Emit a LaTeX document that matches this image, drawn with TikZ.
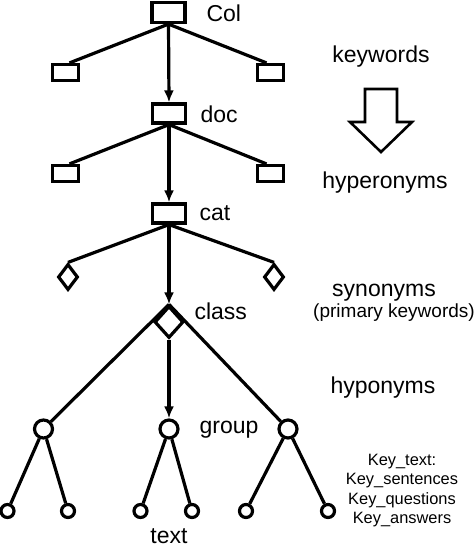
\documentclass[tikz,border=0pt]{standalone}
\usepackage{fontspec}
\setmainfont{Liberation Sans}
\usetikzlibrary{shapes.geometric,arrows.meta}

\begin{document}
\begin{tikzpicture}[x=1pt,y=-1pt,line width=3.2pt,
    box/.style={draw,rectangle,minimum width=33pt,minimum height=19pt,inner sep=0pt},
    kwbox/.style={draw,rectangle,minimum width=26pt,minimum height=16pt,inner sep=0pt},
    syn/.style={draw,diamond,minimum width=20pt,minimum height=26pt,inner sep=0pt},
    cls/.style={draw,diamond,minimum width=29pt,minimum height=32pt,inner sep=0pt},
    grp/.style={draw,circle,minimum size=18pt,inner sep=0pt},
    txt/.style={draw,circle,minimum size=13pt,inner sep=0pt},
    lab/.style={inner sep=0pt,font=\fontsize{23}{27}\selectfont},
    down/.style={-{Latex[length=12pt,width=10pt]}}]
    \useasboundingbox (0,0) rectangle (474,547);
    \node[box] (col) at (168.5,12.5) [minimum height=20pt] {};
    \node[kwbox] (kw1) at (65.5,72.5) {};
    \node[kwbox] (kw2) at (270.5,72.5) {};
    \node[box] (doc) at (169,113.5) {};
    \node[kwbox] (hy1) at (65.5,173.5) {};
    \node[kwbox] (hy2) at (270.5,173.5) {};
    \node[box] (cat) at (169,213.5) {};
    \node[syn] (sy1) at (68,277) {};
    \node[syn] (sy2) at (274,277) {};
    \node[cls] (class) at (169,322) {};
    \node[grp] (g1) at (43.5,429) {};
    \node[grp] (g2) at (169,429) {};
    \node[grp] (g3) at (288,429) {};
    \node[txt] (t1) at (7.5,511) {};
    \node[txt] (t2) at (68,511) {};
    \node[txt] (t3) at (140.5,511) {};
    \node[txt] (t4) at (192,511) {};
    \node[txt] (t5) at (246,511) {};
    \node[txt] (t6) at (328,511) {};
    \draw (col.south) -- ([xshift=4pt]kw1.north);
    \draw (col.south) -- ([xshift=-4pt]kw2.north);
    \draw[down] (col.south) -- (doc.north);
    \draw (doc.south) -- ([xshift=4pt]hy1.north);
    \draw (doc.south) -- ([xshift=-4pt]hy2.north);
    \draw[down] (doc.south) -- (cat.north);
    \draw (cat.south) -- (sy1.north);
    \draw (cat.south) -- (sy2.north);
    \draw[down] (cat.south) -- (class.north);
    \draw (class.north) -- (g1);
    \draw (class.north) -- (g3);
    \draw[down] (class.south) -- (g2.north);
    \draw (g1) -- (t1);
    \draw (g1) -- (t2);
    \draw (g2) -- (t3);
    \draw (g2) -- (t4);
    \draw (g3) -- (t5);
    \draw (g3) -- (t6);
    \node[lab,anchor=west] (collab) at (205,13) {Col};
    \node[lab,anchor=west] (doclab) at (199,114) {doc};
    \node[lab,anchor=west] (catlab) at (198,213) {cat};
    \node[lab,anchor=west] (classlab) at (193,311) {class};
    \node[lab,anchor=west] (grouplab) at (198,430) {group};
    \node[lab] (textlab) at (169,536) {text};
    \node[lab] (keywords) at (381,57) {keywords};
    \node[lab] (hyperonyms) at (385,183) {hyperonyms};
    \node[lab] (synonyms) at (384,293) {synonyms};
    \node[inner sep=0pt,font=\fontsize{19}{22}\selectfont] (primary) at (394,313) {(primary keywords)};
    \node[lab] (hyponyms) at (383,388) {hyponyms};
    \node[inner sep=0pt,align=center,font=\fontsize{16.4}{19.2}\selectfont] (keys) at (402,490.5)
        {Key\_text:\\Key\_sentences\\Key\_questions\\Key\_answers};
    \draw[line width=2.6pt,line join=miter] (365,89) -- (397,89) -- (397,122) -- (412,122) -- (381,152)
        -- (350,122) -- (365,122) -- cycle;
\end{tikzpicture}
\end{document}
